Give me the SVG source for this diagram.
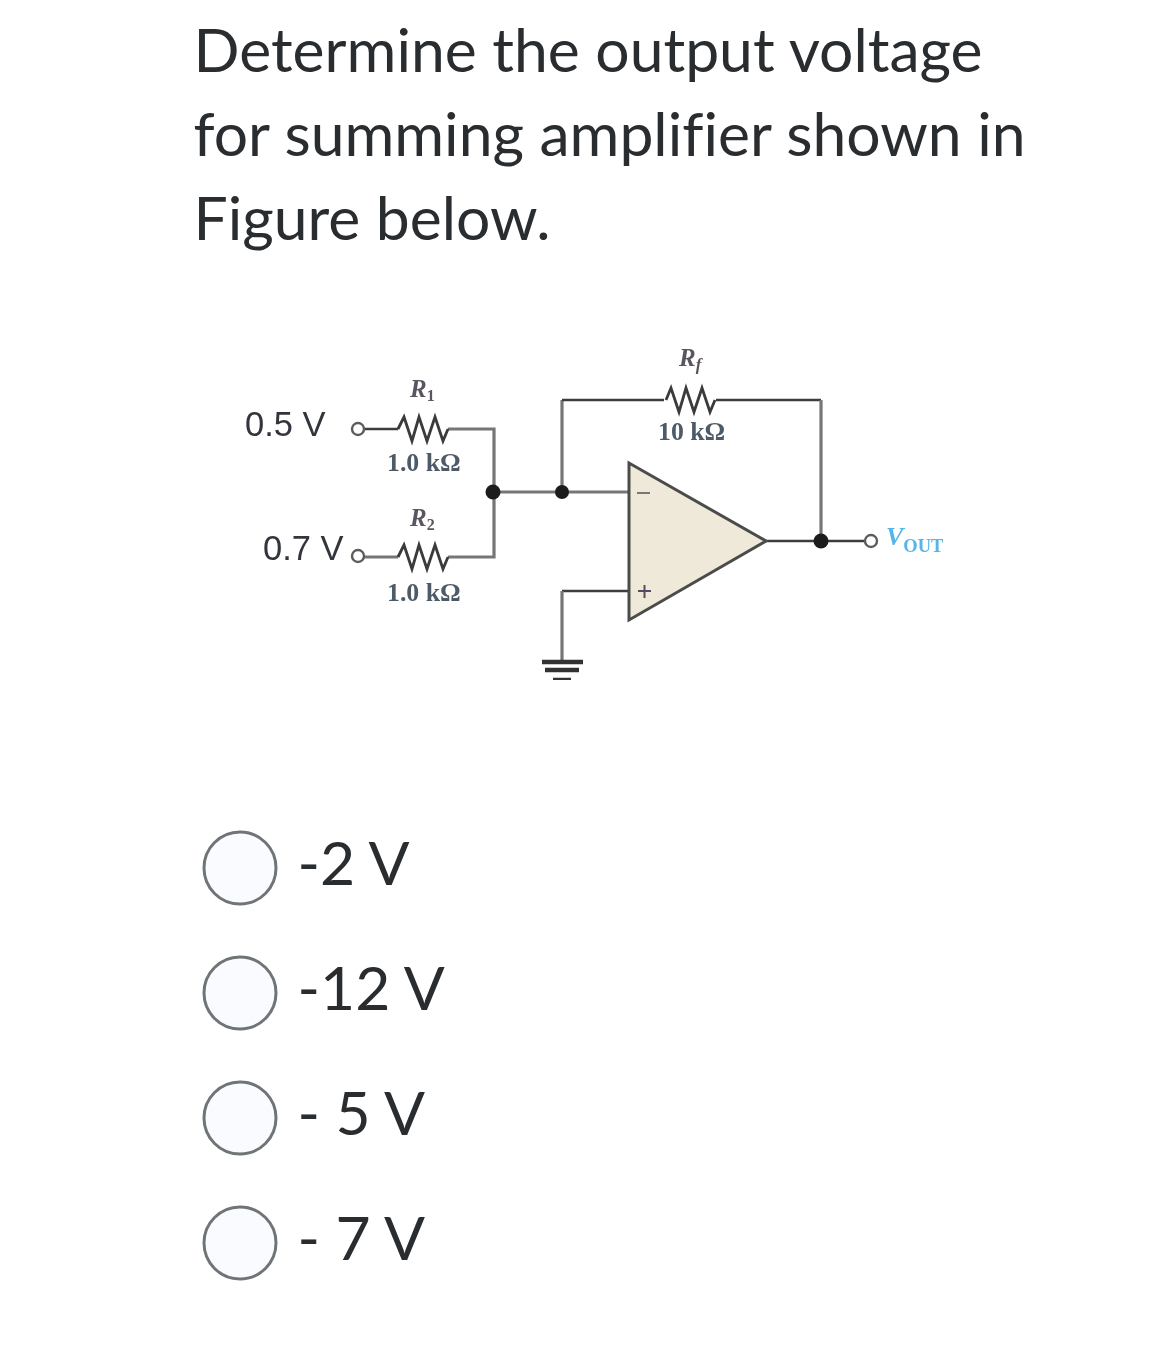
<svg xmlns="http://www.w3.org/2000/svg" width="1170" height="1366" viewBox="0 0 1170 1366">
<style>
.h{font:60.6px Lato,"Liberation Sans",sans-serif;fill:#2a2d30;font-variant-ligatures:none}
.o{font:60.6px Lato,"Liberation Sans",sans-serif;fill:#2a2d30}
.v{font:34.5px "Liberation Sans",Arial,sans-serif;fill:#33353c}
.s{font:bold 25.8px "Liberation Serif",serif;fill:#4d5a68}
.r{font:italic bold 25px "Liberation Serif",serif;fill:#5a5560}
.w{fill:none;stroke:#767676;stroke-width:3.2;stroke-linejoin:miter}
.d{fill:none;stroke:#3c3c3c;stroke-width:2.4}
.z{fill:none;stroke:#3a3a3a;stroke-width:2.8}
.t{fill:#fff;stroke:#5c5c5c;stroke-width:2.4}
.j{fill:#1e1e1e}
.b{fill:#fafbff;stroke:#6f7577;stroke-width:3}
</style>
<defs><filter id="soft" x="0" y="0" width="100%" height="100%"><feGaussianBlur stdDeviation="0.6"/></filter></defs>
<rect width="1170" height="1366" fill="#fff"/>
<g id="question">
<text class="h" x="193.500" y="72">Determine the output voltage</text>
<text class="h" x="193.500" y="156">for summing amplifier shown in</text>
<text class="h" x="193.500" y="240">Figure below.</text>
</g>
<g filter="url(#soft)">
<g id="connectors">
<path class="w" d="M448 429H494V557H448"/>
<path class="w" d="M493 492H629"/>
<path class="w" d="M562 492V400"/>
<path class="d" d="M562 400H664"/>
<path class="d" d="M716 400H821"/>
<path class="w" d="M821 400V541"/>
<path class="d" d="M766 541H865"/>
<path class="d" d="M364 429H398"/>
<path class="w" d="M364 557H398"/>
<path class="d" d="M629 591H562"/>
<path class="w" d="M562 591V661"/>
</g>
<g id="opamp">
<path d="M629 463V620L766 541Z" fill="#eee9d8" stroke="#4c4c4c" stroke-width="3"/>
<path d="M637 493H650" stroke="#777" stroke-width="2"/>
<path d="M638 591H651M644.500 585V598" stroke="#5a4a60" stroke-width="2"/>
</g>
<g id="r1">
<path class="z" d="M398 429L404 417L412 441L419 417L427 441L435 417L443 441L448 429"/>
<text class="r" x="410" y="397">R<tspan font-size="16" dy="4" font-style="normal">1</tspan></text>
<text class="s" x="387" y="471">1.0 kΩ</text>
</g>
<g id="r2">
<path class="z" d="M398 557L404 545L412 569L419 545L427 569L435 545L443 569L448 557"/>
<text class="r" x="410" y="526">R<tspan font-size="16" dy="4" font-style="normal">2</tspan></text>
<text class="s" x="387" y="601">1.0 kΩ</text>
</g>
<g id="rf">
<path class="z" d="M666 400L671 388L679 412L686 388L694 412L702 388L710 412L715 400"/>
<text class="r" x="679" y="366">R<tspan font-size="17" dy="4">f</tspan></text>
<text class="s" x="658" y="440">10 kΩ</text>
</g>
<g id="input1">
<text class="v" x="245" y="436">0.5 V</text>
<circle class="t" cx="358" cy="429" r="6"/>
</g>
<g id="input2">
<text class="v" x="263" y="560">0.7 V</text>
<circle class="t" cx="358" cy="556" r="6"/>
</g>
<g id="output">
<circle class="t" cx="871" cy="541" r="6"/>
<text x="886" y="545" font-family="Liberation Serif,serif" font-size="26" font-style="italic" font-weight="bold" fill="#55b5e8">V<tspan font-size="18.500" font-style="normal" dy="7">OUT</tspan></text>
</g>
<g id="junctions">
<circle class="j" cx="493" cy="492" r="7.500"/>
<circle class="j" cx="562" cy="492" r="7"/>
<circle class="j" cx="821" cy="541" r="7.500"/>
</g>
<g id="ground">
<path d="M542 662H583M545 670H579M553 680H571" stroke="#333" stroke-width="4.500"/>
</g>
</g>
<g id="opt1"><circle class="b" cx="240" cy="868" r="36"/><text class="o" x="297.500" y="885">-2 V</text></g>
<g id="opt2"><circle class="b" cx="240" cy="993" r="36"/><text class="o" x="297.500" y="1010">-12 V</text></g>
<g id="opt3"><circle class="b" cx="240" cy="1118" r="36"/><text class="o" x="297.500" y="1135">- 5 V</text></g>
<g id="opt4"><circle class="b" cx="240" cy="1243" r="36"/><text class="o" x="297.500" y="1260">- 7 V</text></g>
</svg>
